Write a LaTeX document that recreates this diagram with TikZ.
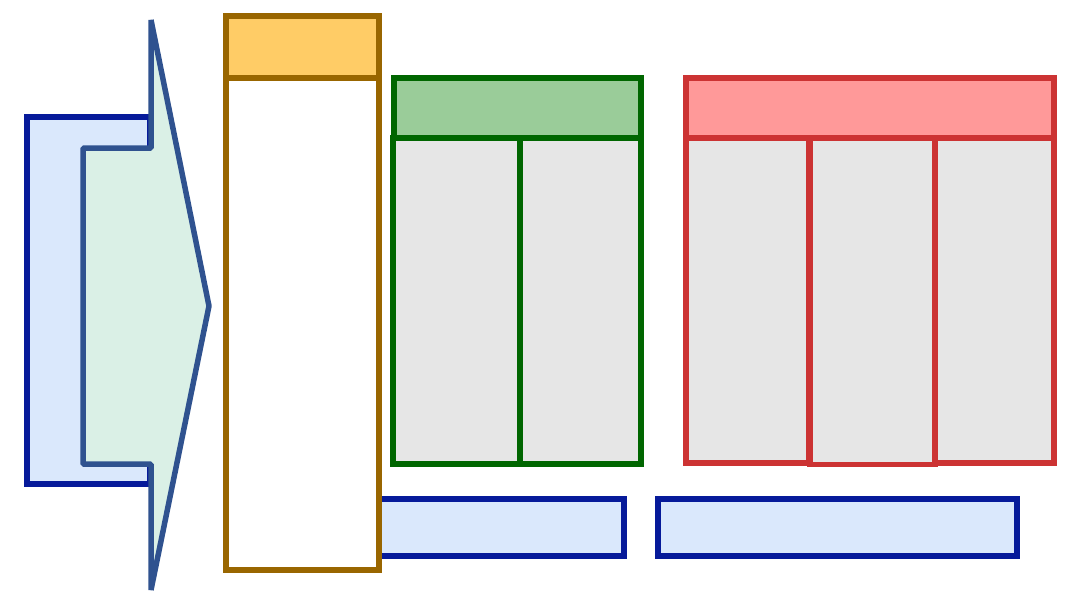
\documentclass[tikz,border=0pt]{standalone}
\usetikzlibrary{shapes.geometric}
\definecolor{blueline}{HTML}{061A9A}
\definecolor{bluefill}{HTML}{DAE8FC}
\definecolor{arrowline}{HTML}{2F528F}
\definecolor{arrowfill}{HTML}{DAF0E6}
\definecolor{brownline}{HTML}{996600}
\definecolor{brownfill}{HTML}{FFCC66}
\definecolor{greenline}{HTML}{006600}
\definecolor{greenfill}{HTML}{9ACC99}
\definecolor{redline}{HTML}{CC3333}
\definecolor{redfill}{HTML}{FF9999}
\definecolor{cellfill}{HTML}{E6E6E6}
\begin{document}
\begin{tikzpicture}[x=1pt,y=-1pt,line width=5.5pt,
  bluebox/.style={draw=blueline,fill=bluefill},
  arrowshape/.style={draw=arrowline,fill=arrowfill,line join=bevel},
  brownbox/.style={draw=brownline},
  greenbox/.style={draw=greenline},
  redbox/.style={draw=redline}]
\useasboundingbox (0,0) rectangle (1074,602);
% left blue panel
\draw[bluebox] (27,117) rectangle (150,484);
% big arrow
\draw[arrowshape] (151,20) -- (209,306) -- (151,590) -- (151,464) -- (83,464) -- (83,148) -- (151,148) -- cycle;
% bottom blue bars
\draw[bluebox] (360,499) rectangle (624,556);
\draw[bluebox] (658,499) rectangle (1017,556);
% brown column
\draw[brownbox,fill=white] (226,78) rectangle (379,570);
\draw[brownbox,fill=brownfill] (226,16) rectangle (379,78);
% green table
\draw[greenbox,fill=greenfill] (394,78) rectangle (641,138);
\draw[greenbox,fill=cellfill] (393,138) rectangle (520,464);
\draw[greenbox,fill=cellfill] (520,138) rectangle (641,464);
% red table
\draw[redbox,fill=redfill] (686,78) rectangle (1054,138);
\draw[redbox,fill=cellfill] (686,138) rectangle (809,463);
\draw[redbox,fill=cellfill] (935,138) rectangle (1054,463);
\draw[redbox,fill=cellfill] (810,138) rectangle (935,464.5);
\end{tikzpicture}
\end{document}
